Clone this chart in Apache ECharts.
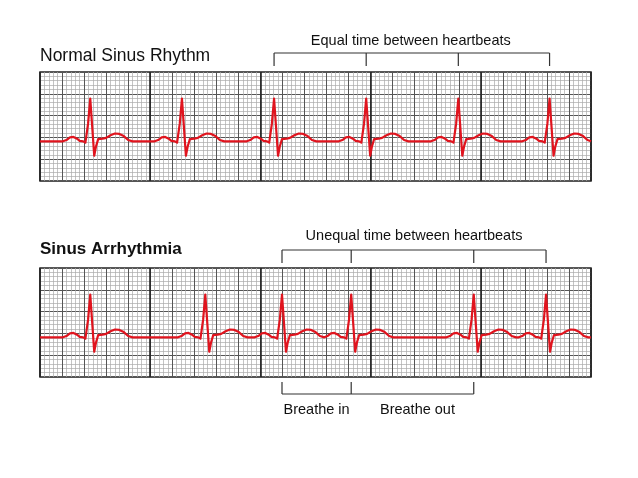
<!DOCTYPE html>
<html>
<head>
<meta charset="utf-8">
<script src="https://cdn.jsdelivr.net/npm/echarts@6/dist/echarts.min.js"></script>
</head>
<body style="margin:0;background:#fff">
<div id="main" style="width:638px;height:478px;"></div>
<script>
// beat shape: [offset from R peak, height above baseline] in small squares
var beatShape = [[-6.2,0],[-5.4,0.3],[-4.6,0.9],[-3.8,1.0],[-3.0,0.6],[-2.4,0.1],[-1.6,0],[-1.1,-0.3],[-0.5,4],[0,9.8],[0.4,4],[0.9,-3.3],[1.3,-1.2],[1.8,0.5],[2.8,0.6],[3.6,0.8],[4.6,1.4],[5.6,1.8],[6.6,1.7],[7.6,1.2],[8.6,0.3],[9.6,0]];
var baseline = 9.1;
var normalBeats = [11.4, 32.2, 53.1, 74.0, 94.9, 115.6];
var arrhythmiaBeats = [11.4, 37.5, 54.9, 70.6, 98.4, 114.8];
var topTitle = 'Normal Sinus Rhythm';
var bottomTitle = 'Sinus Arrhythmia';
var topBracketText = 'Equal time between heartbeats';
var bottomBracketText = 'Unequal time between heartbeats';
var topBracketBeats = [2, 3, 4, 5];
var bottomBracketBeats = [2, 3, 4, 5];
var breathLabels = ['Breathe in', 'Breathe out'];
var breathBeats = [2, 3, 4];

function trace(beats) {
  var pts = [[0, baseline]];
  var lastX = 0;
  beats.forEach(function (r) {
    beatShape.forEach(function (p) {
      var x = r + p[0];
      if (x > lastX && x <= 125) { pts.push([x, baseline + p[1]]); lastX = x; }
    });
  });
  pts.push([125, baseline]);
  return pts;
}

var grids = [
  {left: 40, top: 72, width: 551, height: 109, show: true, borderColor: '#222', borderWidth: 1.5, backgroundColor: '#fff'},
  {left: 40, top: 268, width: 551, height: 109, show: true, borderColor: '#222', borderWidth: 1.5, backgroundColor: '#fff'}
];
var xAxes = [], yAxes = [];
[0, 1].forEach(function (g) {
  xAxes.push({type: 'value', gridIndex: g, min: 0, max: 125, interval: 5, axisLabel: {show: false}, axisTick: {show: false}, axisLine: {show: false},
    splitLine: {lineStyle: {color: '#555', width: 1}}, minorTick: {show: false, splitNumber: 5}, minorSplitLine: {show: true, lineStyle: {color: '#aaa', width: 0.7}}});
  xAxes.push({type: 'value', gridIndex: g, min: 0, max: 125, interval: 25, axisLabel: {show: false}, axisTick: {show: false}, axisLine: {show: false},
    splitLine: {lineStyle: {color: '#222', width: 1.6}}});
  yAxes.push({type: 'value', gridIndex: g, min: 0, max: 25, interval: 5, axisLabel: {show: false}, axisTick: {show: false}, axisLine: {show: false},
    splitLine: {lineStyle: {color: '#555', width: 1}}, minorTick: {show: false, splitNumber: 5}, minorSplitLine: {show: true, lineStyle: {color: '#aaa', width: 0.7}}});
});

var chart = echarts.init(document.getElementById('main'));
chart.setOption({
  animation: false,
  grid: grids,
  xAxis: xAxes,
  yAxis: yAxes,
  series: [
    {type: 'line', xAxisIndex: 0, yAxisIndex: 0, data: trace(normalBeats), showSymbol: false, lineStyle: {color: '#e0141e', width: 2.2, join: 'round'}},
    {type: 'line', xAxisIndex: 2, yAxisIndex: 1, data: trace(arrhythmiaBeats), showSymbol: false, lineStyle: {color: '#e0141e', width: 2.2, join: 'round'}}
  ]
});

function px(xi, x) { return chart.convertToPixel({xAxisIndex: xi}, x); }
var stroke = {stroke: '#333', lineWidth: 1.2};
var font = '14.5px "Liberation Sans", Arial, sans-serif';
var els = [
  {type: 'text', left: 40, top: 47, style: {text: topTitle, font: '17.5px "Liberation Sans", Arial, sans-serif', fill: '#111'}},
  {type: 'text', left: 40, top: 241, style: {text: bottomTitle, font: 'bold 17px "Liberation Sans", Arial, sans-serif', fill: '#111'}}
];
function bracket(xs, yLine, yEnd) {
  els.push({type: 'line', shape: {x1: xs[0], y1: yLine, x2: xs[xs.length - 1], y2: yLine}, style: stroke});
  xs.forEach(function (x) { els.push({type: 'line', shape: {x1: x, y1: yLine, x2: x, y2: yEnd}, style: stroke}); });
}
var topXs = topBracketBeats.map(function (i) { return px(0, normalBeats[i]); });
bracket(topXs, 53, 66);
els.push({type: 'text', x: (topXs[0] + topXs[3]) / 2 - 1, y: 33, style: {text: topBracketText, font: font, fill: '#111', textAlign: 'center'}});
var botXs = bottomBracketBeats.map(function (i) { return px(2, arrhythmiaBeats[i]); });
bracket(botXs, 250, 263);
els.push({type: 'text', x: (botXs[0] + botXs[3]) / 2, y: 228, style: {text: bottomBracketText, font: font, fill: '#111', textAlign: 'center'}});
var brXs = breathBeats.map(function (i) { return px(2, arrhythmiaBeats[i]); });
bracket(brXs, 394, 382);
els.push({type: 'text', x: (brXs[0] + brXs[1]) / 2, y: 402, style: {text: breathLabels[0], font: font, fill: '#111', textAlign: 'center'}});
els.push({type: 'text', x: (brXs[1] + brXs[2]) / 2 + 5, y: 402, style: {text: breathLabels[1], font: font, fill: '#111', textAlign: 'center'}});
chart.setOption({graphic: els});
</script>
</body>
</html>
